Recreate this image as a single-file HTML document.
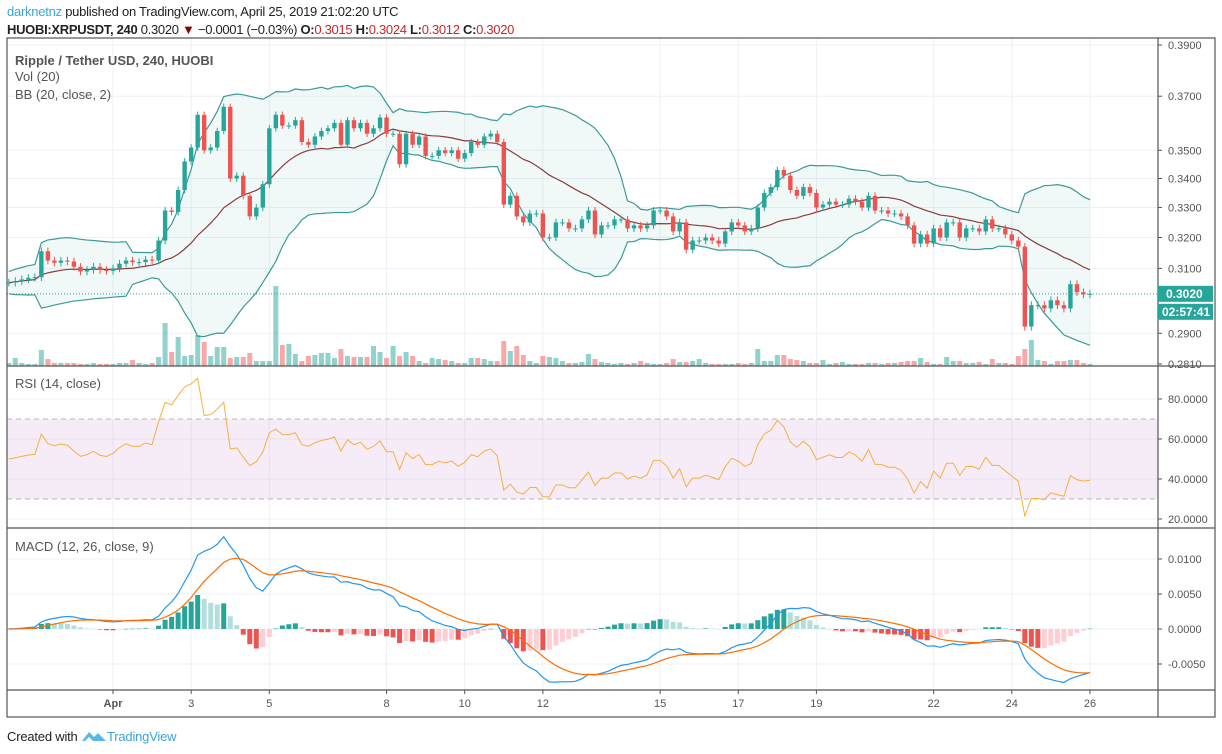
<!DOCTYPE html>
<html><head><meta charset="utf-8">
<style>
html,body{margin:0;padding:0;background:#fff;width:1222px;height:754px;overflow:hidden;font-family:"Liberation Sans",sans-serif;}
#hdr1{position:absolute;left:7px;top:4px;font-size:13px;letter-spacing:-0.25px;color:#222;}
#hdr2{position:absolute;left:7px;top:22px;font-size:13px;letter-spacing:-0.3px;color:#222;}
#foot{position:absolute;left:7px;top:728px;font-size:13px;letter-spacing:-0.2px;color:#222;}
svg{position:absolute;left:0;top:0;}
</style></head><body>
<div id="hdr1"><span style="color:#3ba5d8">darknetnz</span> published on TradingView.com, April 25, 2019 21:02:20 UTC</div>
<div id="hdr2"><b>HUOBI:XRPUSDT, 240</b> 0.3020 <span style="color:#8b0000">▼</span> −0.0001 (−0.03%) <b>O:</b><span style="color:#c62828">0.3015</span> <b>H:</b><span style="color:#c62828">0.3024</span> <b>L:</b><span style="color:#c62828">0.3012</span> <b>C:</b><span style="color:#c62828">0.3020</span></div>
<svg id="chart" width="1222" height="754"></svg>
<div id="foot">Created with <svg style="position:relative;display:inline-block;vertical-align:-3px" width="26" height="16" viewBox="0 0 26 16"><path d="M1 13 L8 4 L13 9 L17 5 L25 13 Z" fill="#5ab6e6"/><path d="M8 9 L12 13 L4 13Z" fill="#fff"/></svg><span style="color:#3ba5d8">TradingView</span></div>
<script>
const closes=[0.3055,0.306,0.3065,0.307,0.3072,0.3155,0.3125,0.3118,0.3125,0.3122,0.3105,0.309,0.3095,0.3105,0.3095,0.3092,0.3100,0.3115,0.3125,0.3120,0.3120,0.3128,0.3125,
0.319,0.329,0.3285,0.336,0.346,0.351,0.363,0.350,0.351,0.357,0.366,0.340,0.341,0.334,0.327,0.330,0.338,0.358,0.363,0.359,0.359,0.361,0.353,0.352,0.355,0.357,0.358,0.360,0.352,0.361,0.358,0.360,0.356,0.358,0.362,0.356,
0.356,0.345,0.356,0.352,0.355,0.348,0.348,0.350,0.349,0.350,0.347,0.349,0.353,0.352,0.355,0.356,0.353,0.331,0.334,0.327,0.325,0.328,0.328,0.320,0.320,0.325,0.325,0.323,0.323,0.326,0.329,0.321,0.324,0.324,0.326,0.326,0.323,0.324,0.323,0.324,0.329,0.329,0.327,0.322,0.325,0.316,0.319,0.319,0.320,0.319,0.318,0.322,0.325,0.324,0.322,0.323,
0.330,0.335,0.337,0.343,0.341,0.336,0.334,0.337,0.335,0.330,0.331,0.332,0.331,0.331,0.333,0.332,0.330,0.334,0.329,0.329,0.328,0.328,0.327,0.324,0.318,0.321,0.318,0.323,0.320,0.325,0.325,0.320,0.323,0.323,0.322,0.326,0.323,0.323,0.321,0.319,0.317,0.292,0.2985,0.2985,0.2975,0.300,0.2985,0.2975,0.305,0.3025,0.3018,0.302];
const volumes=[3,8,3,2,2,16,7,3,3,3,3,2,2,3,2,2,2,3,3,6,3,2,3,9,43,14,29,10,11,31,24,10,19,19,8,9,9,13,5,5,5,80,21,22,12,5,10,11,13,13,8,17,10,9,9,9,20,14,8,20,10,14,10,5,3,8,7,6,5,3,3,8,8,7,5,5,25,15,20,11,5,3,10,9,8,5,3,3,4,12,7,4,3,2,3,2,3,5,3,2,2,3,7,4,4,5,7,3,2,2,2,2,3,2,3,17,5,5,11,11,7,6,5,3,3,6,2,3,4,2,2,2,3,3,2,3,3,4,5,5,8,4,2,2,9,5,5,3,3,4,2,7,3,3,2,10,17,26,6,5,2,5,5,6,6,3,2];
const priceTicks=[0.39,0.37,0.35,0.34,0.33,0.32,0.31,0.29,0.281];
const rsiTicks=[80,60,40,20];
const macdTicks=[0.01,0.005,0,-0.005];
const dayTicks=[1,3,5,8,10,12,15,17,19,22,24,26];
const dayLabels=["Apr","3","5","8","10","12","15","17","19","22","24","26"];

const NS="http://www.w3.org/2000/svg";
const svg=document.getElementById('chart');
function mk(tag,attrs,parent){const e=document.createElementNS(NS,tag);for(const k in attrs)e.setAttribute(k,attrs[k]);(parent||svg).appendChild(e);return e;}
const L=7,R=1158,RR=1215,T=38,P1=366,P2=528,P3=690,B=717;
const xS=i=>8.8+6.513*i;
const yP=p=>45+973*Math.log(0.39/p);
const yR=v=>559-2*v;
const yM=v=>629-7000*v;
const yV=v=>366-v*1.0;
const N=closes.length;
const opens=closes.map((c,i)=>i?closes[i-1]:c);

const grid=mk('g',{});

dayTicks.forEach(d=>{const x=xS(16+6*(d-1));mk('line',{x1:x,x2:x,y1:T,y2:P3,stroke:'#edf1f6'},grid);});
priceTicks.forEach(p=>mk('line',{x1:L,x2:R,y1:yP(p),y2:yP(p),stroke:'#edf1f6'},grid));
rsiTicks.forEach(v=>mk('line',{x1:L,x2:R,y1:yR(v),y2:yR(v),stroke:'#edf1f6'},grid));
macdTicks.forEach(v=>mk('line',{x1:L,x2:R,y1:yM(v),y2:yM(v),stroke:'#edf1f6'},grid));

const defs=mk('defs',{});
const cp=mk('clipPath',{id:'c1'},defs);mk('rect',{x:L,y:T,width:R-L,height:P1-T},cp);
const main=mk('g',{'clip-path':'url(#c1)'});


const up=[],mid=[],lo=[];
for(let i=0;i<N;i++){const s=closes.slice(Math.max(0,i-19),i+1);const m=s.reduce((a,b)=>a+b,0)/s.length;const sd=Math.sqrt(s.reduce((a,b)=>a+(b-m)*(b-m),0)/s.length);mid.push(m);up.push(m+2*sd+0.0035*(s.length<20?1:0));lo.push(m-2*sd-0.0035*(s.length<20?1:0));}
const pts=a=>a.map((v,i)=>xS(i)+','+yP(v)).join(' ');
const bbFill=mk('polygon',{points:pts(up)+' '+lo.map((v,i)=>[i,v]).reverse().map(([i,v])=>xS(i)+','+yP(v)).join(' '),fill:'rgba(38,166,154,0.07)'},main);

const bu=mk('polyline',{points:pts(up),fill:'none',stroke:'#3a9a98','stroke-width':1.2},main);

const bl=mk('polyline',{points:pts(lo),fill:'none',stroke:'#3a9a98','stroke-width':1.2},main);

const bm=mk('polyline',{points:pts(mid),fill:'none',stroke:'#8d3b3b','stroke-width':1.2},main);


for(let i=0;i<N;i++){const g=closes[i]>=opens[i];const r=mk('rect',{x:xS(i)-2.5,y:yV(volumes[i]),width:5,height:volumes[i],fill:g?'rgba(38,166,154,0.5)':'rgba(239,83,80,0.5)'},main);
}
for(let i=0;i<N;i++){const g=closes[i]>=opens[i];const col=g?'#26a69a':'#ef5350';
const hi=Math.max(opens[i],closes[i])+0.0012,lw=Math.min(opens[i],closes[i])-0.0012;
const c=mk('g',{},main);
mk('line',{x1:xS(i),x2:xS(i),y1:yP(hi),y2:yP(lw),stroke:col},c);
const y1=yP(Math.max(opens[i],closes[i])),y2=yP(Math.min(opens[i],closes[i]));
mk('rect',{x:xS(i)-2.2,y:y1,width:4.4,height:Math.max(1,y2-y1),fill:col},c);}
const last=closes[N-1];
const pl=mk('line',{x1:L,x2:R,y1:yP(last),y2:yP(last),stroke:'#26a69a','stroke-dasharray':'1,2'});


const rsiBand=mk('rect',{x:L,y:yR(70),width:R-L,height:yR(30)-yR(70),fill:'rgba(156,39,176,0.09)'});

[70,30].forEach(v=>{const l=mk('line',{x1:L,x2:R,y1:yR(v),y2:yR(v),stroke:'#b6b6b6','stroke-dasharray':'5,4'});});
let ag=0,al=0;const rsi=[];
for(let i=0;i<N;i++){const d=i?closes[i]-closes[i-1]:0;const gn=Math.max(d,0),ls=Math.max(-d,0);
if(i===0){ag=0.0015;al=0.0015;}else{ag=(ag*13+gn)/14;al=(al*13+ls)/14;}
rsi.push(100-100/(1+ag/al));}
const rl=mk('polyline',{points:rsi.map((v,i)=>xS(i)+','+yR(v)).join(' '),fill:'none',stroke:'#f5b041','stroke-width':1});


const ema=(a,n)=>{const k=2/(n+1);const o=[];a.forEach((v,i)=>o.push(i?v*k+o[i-1]*(1-k):v));return o;};
const e12=ema(closes,12),e26=ema(closes,26);const macd=e12.map((v,i)=>v-e26[i]);const sig=ema(macd,9);
for(let i=0;i<N;i++){const h=macd[i]-sig[i];const ph=i?macd[i-1]-sig[i-1]:0;
const col=h>=0?(h>=ph?'#26a69a':'#b2dfdb'):(h<ph?'#ef5350':'#ffcdd2');
const y0=yM(0),y1=yM(h);
const r=mk('rect',{x:xS(i)-2.5,y:Math.min(y0,y1),width:5,height:Math.max(0.5,Math.abs(y1-y0)),fill:col});
}
const ml=mk('polyline',{points:macd.map((v,i)=>xS(i)+','+yM(v)).join(' '),fill:'none',stroke:'#2196f3','stroke-width':1.2});

const sl=mk('polyline',{points:sig.map((v,i)=>xS(i)+','+yM(v)).join(' '),fill:'none',stroke:'#ff6d00','stroke-width':1.2});


const fr=mk('g',{stroke:'#555','stroke-width':1.2,fill:'none'});

mk('rect',{x:L,y:T,width:RR-L,height:B-T},fr);
mk('line',{x1:R,x2:R,y1:T,y2:B},fr);
[P1,P2,P3].forEach(y=>mk('line',{x1:L,x2:RR,y1:y,y2:y},fr));

const txt=(s,x,y,o)=>{const t=mk('text',Object.assign({x:x,y:y,'font-size':11,fill:'#555','font-family':'Liberation Sans, sans-serif'},o||{}));t.textContent=s;return t;};
priceTicks.forEach(p=>{mk('line',{x1:R,x2:R+4,y1:yP(p),y2:yP(p),stroke:'#555'});const t=txt(p.toFixed(4),R+10,yP(p)+4);});
rsiTicks.forEach(v=>{mk('line',{x1:R,x2:R+4,y1:yR(v),y2:yR(v),stroke:'#555'});const t=txt(v.toFixed(4),R+10,yR(v)+4);});
macdTicks.forEach(v=>{mk('line',{x1:R,x2:R+4,y1:yM(v),y2:yM(v),stroke:'#555'});const t=txt(v.toFixed(4),R+10,yM(v)+4);});
dayTicks.forEach((d,k)=>{const x=xS(16+6*(d-1));mk('line',{x1:x,x2:x,y1:P3,y2:P3+4,stroke:'#555'});const t=txt(dayLabels[k],x,707,{'text-anchor':'middle','font-weight':k===0?'bold':'normal'});});

const pb=mk('rect',{x:R,y:yP(last)-8,width:55,height:16,fill:'#26a69a'});

txt(last.toFixed(4),R+8,yP(last)+4,{fill:'#fff','font-weight':'bold','font-size':12});
const cb=mk('rect',{x:R,y:yP(last)+10,width:55,height:16,fill:'#26a69a'});

txt('02:57:41',R+4,yP(last)+22,{fill:'#fff','font-weight':'bold','font-size':12});

const lg=(s,y,w)=>{const t=txt(s,15,y,{'font-size':13,fill:'#555','font-weight':w||'normal'});};
lg('Ripple / Tether USD, 240, HUOBI',65,'bold');lg('Vol (20)',81);lg('BB (20, close, 2)',99);
lg('RSI (14, close)',388);lg('MACD (12, 26, close, 9)',551);
</script>
</body></html>
